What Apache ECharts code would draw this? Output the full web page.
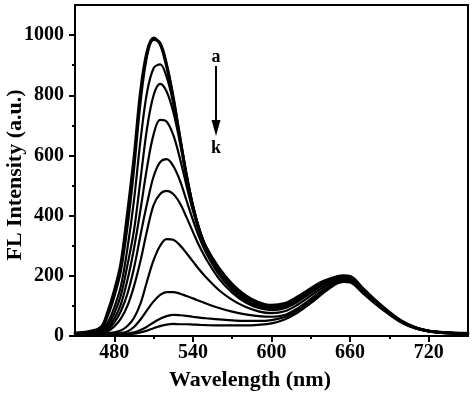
<!DOCTYPE html>
<html>
<head>
<meta charset="utf-8">
<script src="https://cdn.jsdelivr.net/npm/echarts@6.0.0/dist/echarts.min.js"></script>
<style>
html,body{margin:0;padding:0;background:#fff;}
#chart{width:474px;height:395px;}
</style>
</head>
<body>
<div id="chart"></div>
<script>
// ---- data ----
var wavelength = [450,460,470,475,480,485,490,495,500,505,510,515,520,525,530,535,540,545,550,560,570,580,590,600,610,620,630,640,650,655,660,670,680,690,700,710,720,730,740,750];

var curveA = [10,14,30,80,150,240,405,590,810,945,990,970,895,785,660,535,430,350,295,225,172,135,112,102,108,130,158,182,197,200,198,157,116,79,48,28,17,12,10,9];
var curveB = [9,13,24,66,130,215,360,550,775,930,984,975,905,800,668,540,432,352,296,222,170,133,110,100,106,128,156,180,196,199,197,156,115,78,48,28,17,12,10,9];
var curveC = [9,12,18,45,95,165,290,450,650,810,890,903,860,775,660,538,433,354,297,220,168,131,108,98,104,126,154,178,195,198,196,155,115,78,47,28,17,12,10,9];
var curveD = [8,11,15,35,75,135,235,350,520,690,800,838,812,745,645,532,432,354,296,218,165,128,105,96,102,124,152,177,194,197,195,154,114,77,47,27,17,12,10,9];
var curveE = [8,10,13,28,58,105,185,290,420,560,670,718,712,668,592,502,416,346,290,212,160,124,102,93,99,121,149,175,193,196,194,153,113,77,47,27,16,11,9,8];
var curveF = [7,9,11,22,45,82,140,225,335,440,530,578,588,565,518,452,386,326,277,203,153,118,97,89,95,117,146,173,192,195,193,152,112,76,46,27,16,11,9,8];
var curveG = [7,8,10,16,32,58,100,165,250,350,435,472,482,472,442,396,346,298,257,190,144,112,93,86,92,114,143,170,190,194,192,151,111,76,46,27,16,11,9,8];
var curveH = [6,7,8,10,12,18,33,60,108,182,252,300,322,320,302,276,248,220,195,152,120,97,82,76,82,104,134,163,186,190,188,148,109,74,45,26,16,11,9,8];
var curveI = [5,6,6,7,8,10,15,30,55,86,115,137,146,146,141,133,125,116,108,93,81,72,66,64,70,92,123,155,181,186,184,145,107,73,44,26,15,10,8,7];
var curveJ = [4,5,5,5,6,6,8,12,20,31,45,57,66,70,69,67,64,61,59,55,52,50,50,53,63,85,116,149,177,183,181,143,105,72,43,25,15,10,8,7];
var curveK = [4,4,4,4,5,5,6,8,12,18,26,33,38,40,39,39,38,37,36,35,35,35,37,42,55,78,109,144,174,180,178,141,104,71,43,25,15,10,8,7];

var curves = [curveA,curveB,curveC,curveD,curveE,curveF,curveG,curveH,curveI,curveJ,curveK];
var curveNames = ['a','b','c','d','e','f','g','h','i','j','k'];

var xMajorTicks = [480,540,600,660,720];
var xMinorTicks = [510,570,630,690];
var yMajorTicks = [0,200,400,600,800,1000];
var yMinorTicks = [100,300,500,700,900];

var FONT = '"Liberation Serif", "Times New Roman", serif';

var chart = echarts.init(document.getElementById('chart'), null, {renderer:'canvas'});

var series = curves.map(function(c, idx){
  return {
    name: curveNames[idx],
    type: 'line',
    xAxisIndex: 0,
    yAxisIndex: 0,
    data: wavelength.map(function(w, i){ return [w, c[i]]; }),
    showSymbol: false,
    symbol: 'none',
    smooth: 0.35,
    lineStyle: {color:'#000', width: idx === 0 ? 3 : 2.2, join:'round', cap:'round'},
    silent: true,
    animation: false,
    z: 3
  };
});

var option = {
  backgroundColor: '#fff',
  animation: false,
  grid: {left:75, right:6, top:5, bottom:59, show:true, borderColor:'#000', borderWidth:2, outerBoundsMode:'none', containLabel:false},
  xAxis: [
    {
      type:'value', min:450, max:750, position:'bottom',
      axisLine:{show:true, onZero:false, lineStyle:{color:'#000', width:2}},
      axisTick:{show:true, customValues:xMajorTicks, length:6, lineStyle:{color:'#000', width:2}},
      axisLabel:{show:true, customValues:xMajorTicks, margin:7, color:'#000', fontFamily:FONT, fontWeight:'bold', fontSize:20,
        formatter:function(v){ return String(v); }},
      splitLine:{show:false}
    },
    {
      type:'value', min:450, max:750, position:'bottom',
      axisLine:{show:false},
      axisTick:{show:true, customValues:xMinorTicks, length:3, lineStyle:{color:'#000', width:2}},
      axisLabel:{show:false},
      splitLine:{show:false}
    }
  ],
  yAxis: [
    {
      type:'value', min:0, max:1100, position:'left',
      axisLine:{show:true, onZero:false, lineStyle:{color:'#000', width:2}},
      axisTick:{show:true, customValues:yMajorTicks, length:6, lineStyle:{color:'#000', width:2}},
      axisLabel:{show:true, customValues:yMajorTicks, margin:11, color:'#000', fontFamily:FONT, fontWeight:'bold', fontSize:20,
        formatter:function(v){ return String(v); }},
      splitLine:{show:false}
    },
    {
      type:'value', min:0, max:1100, position:'left',
      axisLine:{show:false},
      axisTick:{show:true, customValues:yMinorTicks, length:3, lineStyle:{color:'#000', width:2}},
      axisLabel:{show:false},
      splitLine:{show:false}
    }
  ],
  graphic: [
    {type:'text', x:250, y:380, style:{text:'Wavelength (nm)', fill:'#000', font:'bold 22px ' + FONT, textAlign:'center', textVerticalAlign:'middle'}},
    {type:'text', x:15, y:175, rotation:Math.PI/2, style:{text:'FL Intensity (a.u.)', fill:'#000', font:'bold 22px ' + FONT, textAlign:'center', textVerticalAlign:'middle'}},
    {type:'text', x:216, y:57, style:{text:'a', fill:'#000', font:'bold 18px ' + FONT, textAlign:'center', textVerticalAlign:'middle'}},
    {type:'text', x:216, y:148, style:{text:'k', fill:'#000', font:'bold 18px ' + FONT, textAlign:'center', textVerticalAlign:'middle'}},
    {type:'line', shape:{x1:216, y1:66, x2:216, y2:124}, style:{stroke:'#000', lineWidth:2}},
    {type:'polygon', shape:{points:[[211.5,120],[220.5,120],[216,136]]}, style:{fill:'#000'}}
  ],
  series: series
};
chart.setOption(option);
</script>
</body>
</html>
